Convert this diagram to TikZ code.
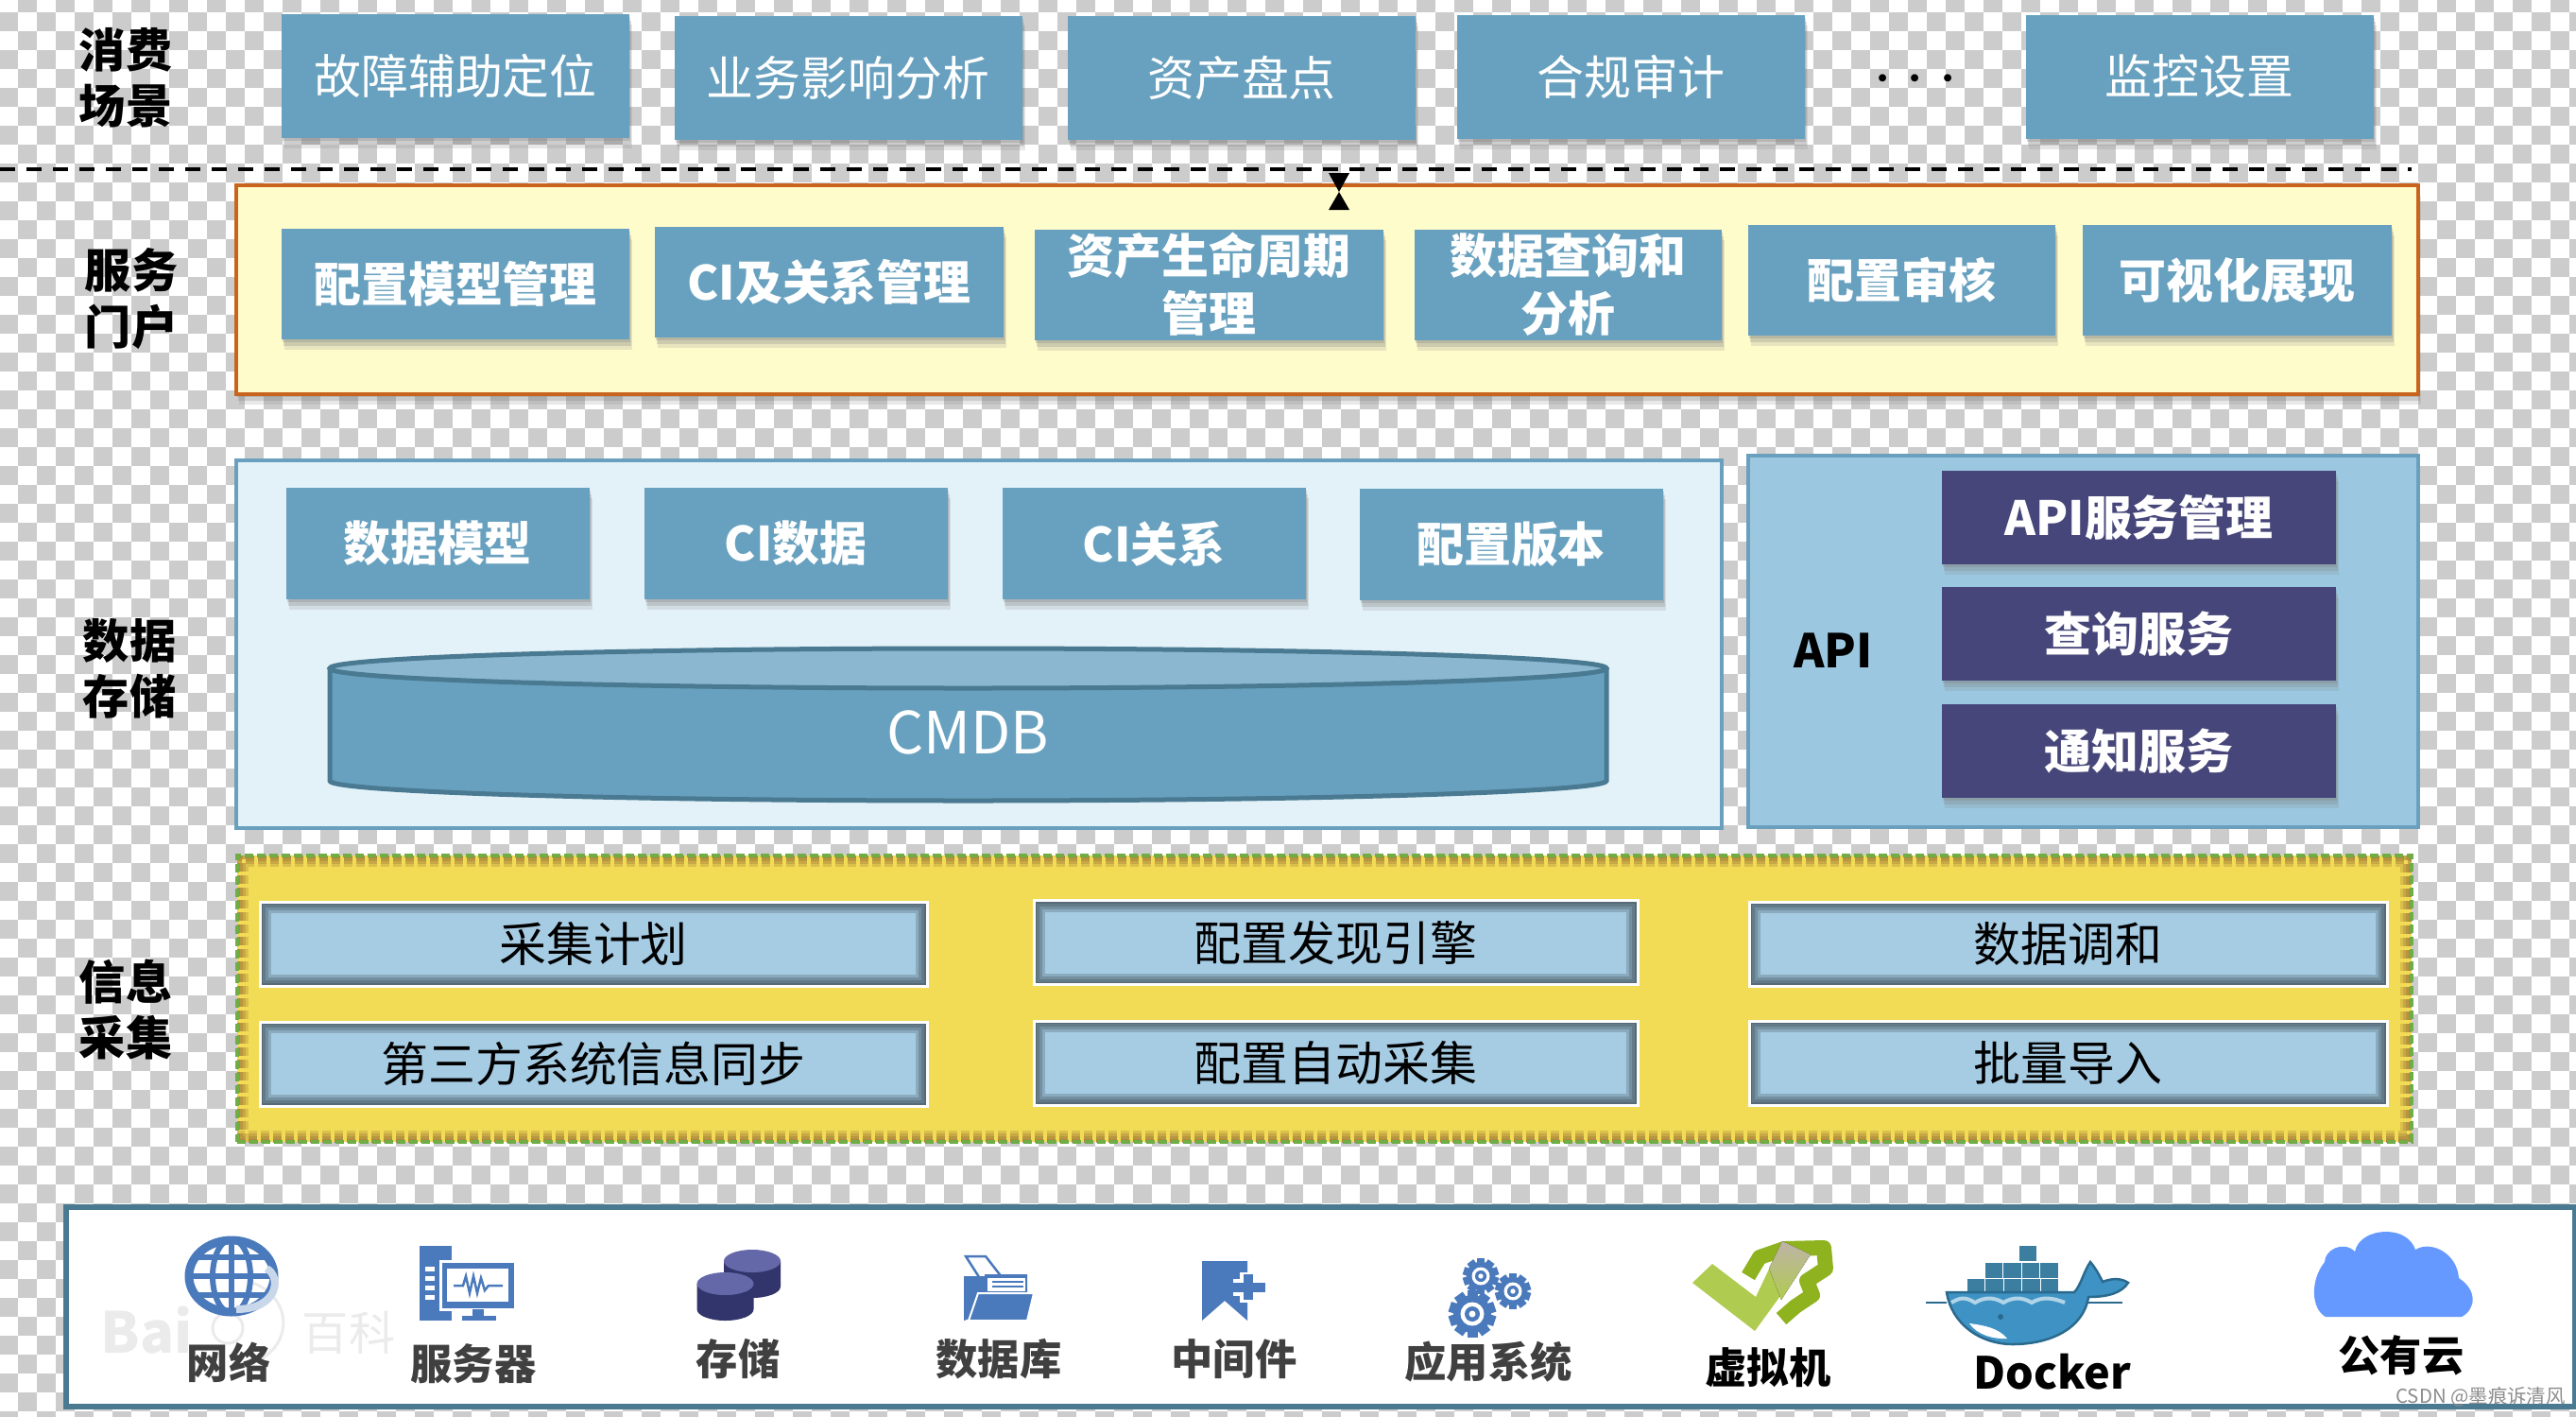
\documentclass[tikz,border=0pt]{standalone}
\usepackage{fontspec}
\setmainfont{Noto Sans CJK SC}
\usetikzlibrary{shadows}
\definecolor{checkgray}{HTML}{CCCCCC}
\definecolor{boxblue}{HTML}{68A1BF}
\definecolor{edgeblue}{HTML}{6AA0BE}
\definecolor{tealdark}{HTML}{4A7A92}
\definecolor{indigobox}{HTML}{46467A}
\definecolor{creamfill}{HTML}{FFFCCC}
\definecolor{orangeline}{HTML}{C8641E}
\definecolor{palefill}{HTML}{E3F2F8}
\definecolor{apifill}{HTML}{9BC8E0}
\definecolor{cellfill}{HTML}{A6CCE4}
\definecolor{goldfill}{HTML}{F2DC55}
\definecolor{greenline}{HTML}{70AD47}
\definecolor{iconblue}{HTML}{4A7ABC}
\definecolor{stacktop}{HTML}{6568A8}
\definecolor{stackbody}{HTML}{32356B}
\definecolor{labelgray}{HTML}{404040}
\definecolor{cloudblue}{HTML}{6699FF}
\definecolor{whaleblue}{HTML}{3F93C4}
\definecolor{whaledark}{HTML}{2A6A8E}
\definecolor{crateblue}{HTML}{3C7EA0}
\definecolor{checkgreen}{HTML}{B0CC50}
\definecolor{puzzlegreen}{HTML}{8FB31F}
\tikzset{
	softshadow/.style={
		drop shadow={shadow xshift=.01cm,shadow yshift=-.03cm,opacity=.28},
		drop shadow={shadow xshift=.02cm,shadow yshift=-.07cm,opacity=.25},
		drop shadow={shadow xshift=.03cm,shadow yshift=-.11cm,opacity=.18}},
	insetshadow/.style={path picture={
		\foreach \w in {.06,.12,.18,.24}
			\draw[#1,opacity=.22,line width=\w cm] (path picture bounding box.south west) rectangle (path picture bounding box.north east);}},
	bigtext/.style={font=\fontsize{14.2}{17.4}\selectfont},
	sidelabel/.style={align=center,font=\fontsize{14}{16.8}\selectfont\bfseries},
	scenebox/.style={fill=boxblue,text=white,softshadow,bigtext,minimum width=3.68cm,minimum height=1.31cm},
	portalbox/.style={fill=boxblue,text=white,softshadow,align=center,inner sep=0pt,minimum height=1.17cm,font=\fontsize{14.2}{17.4}\selectfont\bfseries},
	databox/.style={fill=boxblue,text=white,softshadow,minimum width=3.21cm,minimum height=1.18cm,font=\fontsize{14.2}{17.4}\selectfont\bfseries},
	apibox/.style={fill=indigobox,text=white,softshadow,minimum width=4.17cm,minimum height=.99cm,font=\fontsize{14.2}{17.4}\selectfont\bfseries},
	cellbox/.style={draw=white,line width=.03cm,fill=cellfill,insetshadow=black!75!cellfill,bigtext,minimum height=.89cm},
	iconlabel/.style={text=labelgray,font=\fontsize{12.6}{15}\selectfont\bfseries},
}
\begin{document}
\begin{tikzpicture}[y=-1cm]
	\useasboundingbox (0,0) rectangle (27.26,14.98);
	\fill[white] (0,0) rectangle (27.26,14.98);
	% checker background
	\foreach \r in {-1,0,...,74} {
		\pgfmathsetmacro\cy{.23+.2*\r}
		\pgfmathsetmacro\sx{mod(\r+2,2)*.2-.01}
		\draw[checkgray,line width=.2cm,dash pattern=on .2cm off .2cm] (\sx,\cy) -- (27.5,\cy);
	}

	% consumption row
	\node[sidelabel] (sceneLabel) at (1.33,.82) {消费\\场景};
	\node[scenebox] (fault) at (4.82,.805) {故障辅助定位};
	\node[scenebox] (impact) at (8.975,.825) {业务影响分析};
	\node[scenebox] (asset) at (13.14,.825) {资产盘点};
	\node[scenebox] (audit) at (17.26,.81) {合规审计};
	\node[font=\fontsize{8}{10}\selectfont\bfseries] (dots) at (20.27,.86) {· · ·};
	\node[scenebox] (monitor) at (23.275,.81) {监控设置};
	\coordinate (divLeft) at (0,1.79);
	\coordinate (divRight) at (25.52,1.79);
	\draw[line width=.04cm,dash pattern=on .16cm off .12cm] (divLeft) -- (divRight);

	% service portal
	\node[sidelabel] (portalLabel) at (1.39,3.16) {服务\\门户};
	\node[draw=orangeline,fill=creamfill,line width=.04cm,softshadow,minimum width=23.09cm,minimum height=2.21cm] (portal) at (14.045,3.065) {};
	\fill (14.06,1.83) -- (14.28,1.83) -- (14.17,2.03) -- (14.28,2.22) -- (14.06,2.22) -- (14.17,2.03) -- cycle;
	\node[portalbox,minimum width=3.68cm] (model) at (4.82,3.005) {配置模型管理};
	\node[portalbox,minimum width=3.69cm] (relation) at (8.775,2.985) {CI及关系管理};
	\node[portalbox,minimum width=3.69cm] (lifecycle) at (12.795,3.01) {资产生命周期\\管理};
	\node[portalbox,minimum width=3.25cm] (query) at (16.595,3.01) {数据查询和\\分析};
	\node[portalbox,minimum width=3.25cm] (review) at (20.125,2.96) {配置审核};
	\node[portalbox,minimum width=3.27cm] (visual) at (23.675,2.965) {可视化展现};

	% data storage
	\node[sidelabel] (dataLabel) at (1.37,7.07) {数据\\存储};
	\node[draw=edgeblue,fill=palefill,line width=.04cm,minimum width=15.72cm,minimum height=3.89cm] (store) at (10.36,6.815) {};
	\node[databox] (dmodel) at (4.63,5.75) {数据模型};
	\node[databox] (cidata) at (8.42,5.75) {CI数据};
	\node[databox] (cirel) at (12.21,5.75) {CI关系};
	\node[databox] (version) at (15.99,5.755) {配置版本};
	\draw[tealdark,fill=boxblue,line width=.05cm] (3.49,7.07) -- (3.49,8.26) arc[x radius=6.755cm,y radius=.21cm,start angle=180,end angle=360] -- (17,7.07);
	\draw[tealdark,fill=apifill!80!tealdark,line width=.05cm] (10.245,7.07) ellipse [x radius=6.755cm,y radius=.21cm];
	\node[text=white,font=\fontsize{17.5}{20}\selectfont] (cmdb) at (10.24,7.75) {CMDB};

	\node[draw=edgeblue,fill=apifill,line width=.04cm,minimum width=7.09cm,minimum height=3.93cm] (apiFrame) at (22.045,6.785) {};
	\node[font=\fontsize{14}{16}\selectfont\bfseries] (apiLabel) at (19.40,6.88) {API};
	\node[apibox] (apimgr) at (22.635,5.475) {API服务管理};
	\node[apibox] (apiquery) at (22.635,6.705) {查询服务};
	\node[apibox] (apinotify) at (22.635,7.945) {通知服务};

	% collection
	\node[sidelabel] (collectLabel) at (1.33,10.68) {信息\\采集};
	\node[draw=greenline,dash pattern=on .09cm off .04cm,fill=goldfill,line width=.035cm,insetshadow=brown!70!black,minimum width=23.01cm,minimum height=3.03cm] (collect) at (14.015,10.565) {};
	\node[cellbox,minimum width=7.06cm] (plan) at (6.28,9.985) {采集计划};
	\node[cellbox,minimum width=6.39cm] (engine) at (14.135,9.97) {配置发现引擎};
	\node[cellbox,minimum width=6.75cm] (reconcile) at (21.885,9.985) {数据调和};
	\node[cellbox,minimum width=7.06cm] (sync) at (6.28,11.255) {第三方系统信息同步};
	\node[cellbox,minimum width=6.39cm] (auto) at (14.135,11.245) {配置自动采集};
	\node[cellbox,minimum width=6.75cm] (batch) at (21.885,11.245) {批量导入};

	% resources
	\node[draw=tealdark,fill=white,line width=.055cm,minimum width=26.55cm,minimum height=2.11cm] (infra) at (13.975,13.825) {};

	% watermarks
	\node[text=black!8,inner sep=0pt,font=\fontsize{17}{20}\selectfont\bfseries] (wmBai) at (1.55,14.07) {Bai};
	\node[text=black!8,inner sep=0pt,font=\fontsize{14}{16}\selectfont] (wmKe) at (3.69,14.10) {百科};
	\draw[black!8,line width=.03cm] (2.62,13.55) .. controls (3.1,13.7) and (3.1,14.2) .. (2.75,14.38);
	\draw[black!8,line width=.03cm] (2.25,14.05) arc[radius=.16cm,start angle=180,end angle=-180];

	% globe
	\draw[iconblue,line width=.09cm] (2.45,13.5) ellipse [x radius=.45cm,y radius=.38cm];
	\draw[iconblue,line width=.06cm] (2.45,13.5) ellipse [x radius=.2cm,y radius=.39cm];
	\draw[iconblue,line width=.06cm] (2.45,13.11) -- (2.45,13.89);
	\draw[iconblue,line width=.06cm] (1.99,13.5) -- (2.91,13.5);
	\draw[iconblue,line width=.06cm] (2.05,13.3) -- (2.85,13.3);
	\draw[iconblue,line width=.06cm] (2.05,13.7) -- (2.85,13.7);
	\draw[iconblue!30,line width=.08cm] (2.50,13.85) .. controls (2.95,13.85) and (2.98,13.50) .. (2.82,13.42);

	% server
	\fill[iconblue] (4.44,13.18) rectangle (4.78,13.97);
	\foreach \sy in {13.40,13.50,13.60,13.70}
		\fill[white] (4.50,\sy) rectangle (4.60,{\sy+.05});
	\draw[white,fill=iconblue,line width=.03cm] (4.66,13.34) rectangle (5.45,13.85);
	\fill[white] (4.73,13.42) rectangle (5.38,13.77);
	\draw[iconblue,line width=.025cm] (4.80,13.60) -- (4.90,13.60) -- (4.93,13.50) -- (4.97,13.68) -- (5.01,13.50) -- (5.05,13.68) -- (5.09,13.52) -- (5.13,13.65) -- (5.17,13.60) -- (5.32,13.60);
	\fill[iconblue] (5.00,13.85) rectangle (5.12,13.92);
	\fill[iconblue] (4.89,13.92) rectangle (5.25,13.97);

	% storage discs
	\foreach \cx/\ty in {7.96/13.22,7.675/13.46} {
		\fill[stackbody] (\cx-.30,\ty+.12) -- (\cx-.30,\ty+.39) arc[x radius=.30cm,y radius=.12cm,start angle=180,end angle=360] -- (\cx+.30,\ty+.12) -- cycle;
		\fill[stacktop] (\cx,\ty+.12) ellipse [x radius=.30cm,y radius=.12cm];
	}

	% folder
	\draw[iconblue,fill=white,line width=.025cm] (10.22,13.29) -- (10.43,13.29) -- (10.67,13.60) -- (10.45,13.65) -- cycle;
	\fill[iconblue] (10.20,13.50) -- (10.42,13.50) -- (10.42,13.48) -- (10.87,13.48) -- (10.87,13.75) -- (10.20,13.97) -- cycle;
	\fill[white] (10.45,13.52) rectangle (10.85,13.66);
	\draw[iconblue,line width=.02cm] (10.50,13.56) -- (10.83,13.56);
	\draw[iconblue,line width=.02cm] (10.50,13.61) -- (10.83,13.61);
	\draw[white,fill=iconblue,line width=.02cm] (10.25,13.97) -- (10.35,13.68) -- (10.94,13.68) -- (10.87,13.97) -- cycle;

	% middleware
	\fill[iconblue] (12.72,13.34) -- (13.20,13.34) -- (13.20,13.97) -- (12.96,13.76) -- (12.72,13.97) -- cycle;
	\draw[white,line width=.18cm] (13.05,13.62) -- (13.39,13.62);
	\draw[white,line width=.18cm] (13.21,13.46) -- (13.21,13.78);
	\draw[iconblue,line width=.1cm] (13.05,13.62) -- (13.39,13.62);
	\draw[iconblue,line width=.1cm] (13.21,13.48) -- (13.21,13.75);

	% gears
	\foreach \cx/\cy/\rad in {15.58/13.90/.25,15.67/13.50/.19,16.01/13.66/.19} {
		\foreach \a in {0,36,...,324}
			\fill[iconblue,rotate around={\a:(\cx,\cy)}] (\cx-.22*\rad,\cy) rectangle (\cx+.22*\rad,\cy+\rad);
		\fill[iconblue] (\cx,\cy) circle [radius=.8*\rad];
		\fill[white] (\cx,\cy) circle [radius=.5*\rad];
		\fill[iconblue] (\cx,\cy) circle [radius=.32*\rad];
		\fill[white] (\cx,\cy) circle [radius=.14*\rad];
	}

	% check mark
	\draw[puzzlegreen,line width=.16cm,line join=round] (18.50,13.50) -- (18.62,13.30) -- (18.88,13.21) -- (19.30,13.20) -- (19.32,13.42) -- (19.12,13.55) -- (19.18,13.70) -- (19.00,13.82) -- (18.85,13.95);
	\fill[checkgreen] (17.91,13.57) -- (18.12,13.37) -- (18.58,13.72) -- (18.86,13.13) -- (19.16,13.27) -- (18.57,14.08) -- cycle;
	\fill[top color=brown!30!gray!60,bottom color=checkgreen] (18.86,13.13) -- (19.16,13.27) -- (18.85,13.75) -- (18.72,13.42) -- cycle;

	% whale
	\foreach \gx/\gy in {21.36/13.17,21.00/13.35,21.195/13.35,21.39/13.35,21.585/13.35,20.81/13.52,21.005/13.52,21.20/13.52,21.395/13.52,21.59/13.52}
		\draw[white,line width=.01cm,fill=crateblue] (\gx,\gy) rectangle ++(.195,.175);
	\draw[whaledark,line width=.025cm] (20.38,13.78) -- (20.60,13.78);
	\draw[whaledark,line width=.025cm] (22.05,13.78) -- (22.46,13.78);
	\draw[whaledark,fill=whaleblue,line width=.025cm] (20.60,13.67) -- (21.95,13.67) .. controls (22.02,13.60) and (22.05,13.45) .. (22.12,13.35) .. controls (22.18,13.42) and (22.22,13.50) .. (22.25,13.56) .. controls (22.35,13.52) and (22.45,13.52) .. (22.52,13.57) .. controls (22.45,13.68) and (22.30,13.72) .. (22.10,13.72) .. controls (22.05,14.05) and (21.70,14.22) .. (21.30,14.22) .. controls (20.95,14.22) and (20.65,14.0) .. (20.60,13.67) -- cycle;
	\fill[white] (20.84,14.00) .. controls (21.0,14.02) and (21.15,14.05) .. (21.24,14.16) .. controls (21.1,14.17) and (20.92,14.12) .. (20.84,14.00) -- cycle;
	\draw[whaleblue!40,line width=.04cm] (20.65,13.78) .. controls (20.75,13.72) and (20.8,13.72) .. (20.9,13.78) .. controls (21.0,13.72) and (21.1,13.72) .. (21.2,13.78) .. controls (21.3,13.72) and (21.4,13.72) .. (21.5,13.78) .. controls (21.6,13.72) and (21.7,13.72) .. (21.85,13.78);
	\fill[whaledark] (21.17,13.93) circle [radius=.03cm];

	% cloud
	\fill[cloudblue] (24.61,13.93) .. controls (24.46,13.85) and (24.44,13.55) .. (24.60,13.35) .. controls (24.60,13.22) and (24.80,13.12) .. (24.92,13.24) .. controls (24.95,13.10) and (25.10,13.03) .. (25.25,13.03) .. controls (25.40,13.03) and (25.52,13.10) .. (25.56,13.22) .. controls (25.72,13.12) and (26.0,13.25) .. (26.02,13.52) .. controls (26.22,13.65) and (26.2,13.85) .. (26.05,13.93) -- cycle;

	% icon labels
	\node[iconlabel] (netText) at (2.42,14.41) {网络};
	\node[iconlabel] (srvText) at (5.01,14.43) {服务器};
	\node[iconlabel] (stoText) at (7.81,14.38) {存储};
	\node[iconlabel] (dbText) at (10.57,14.38) {数据库};
	\node[iconlabel] (mwText) at (13.06,14.38) {中间件};
	\node[iconlabel] (appText) at (15.75,14.41) {应用系统};
	\node[iconlabel,text=black] (vmText) at (18.71,14.47) {虚拟机};
	\node[iconlabel,text=black,font=\fontsize{13.3}{15}\selectfont\bfseries] (dockerText) at (21.72,14.51) {Docker};
	\node[iconlabel,text=black] (cloudText) at (25.41,14.34) {公有云};
	\node[text=black!45,font=\fontsize{5.8}{7}\selectfont] (csdn) at (26.25,14.78) {CSDN @墨痕诉清风};
\end{tikzpicture}
\end{document}
